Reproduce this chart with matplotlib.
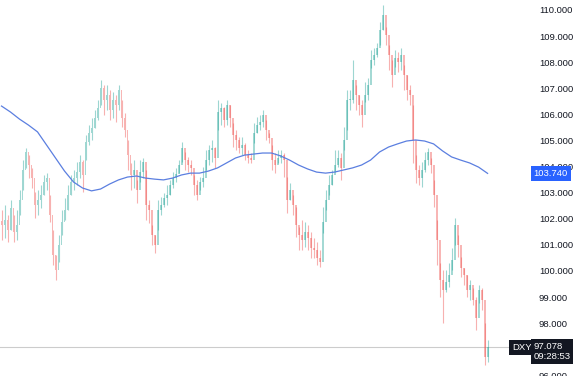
import matplotlib.pyplot as plt
import numpy as np

plt.rcParams['font.family'] = ['Liberation Sans', 'DejaVu Sans']

# DXY daily-ish candles (close / high / low)
close = [101.76, 101.95, 101.57, 102.41, 101.49, 101.76, 102.72, 103.87, 104.56, 104.06,
         103.56, 102.53, 102.72, 102.91, 103.41, 103.56, 102.15, 100.61, 100.04, 101.00,
         101.88, 102.34, 102.91, 103.41, 103.56, 103.79, 104.18, 103.68, 104.94, 105.29,
         105.48, 105.86, 106.25, 107.01, 106.55, 106.74, 106.17, 106.55, 106.36, 106.93,
         105.86, 105.40, 104.44, 103.68, 103.87, 103.10, 103.79, 104.18, 102.53, 102.34,
         101.38, 101.00, 102.34, 102.53, 102.80, 102.91, 103.30, 103.56, 103.72, 104.06,
         104.71, 104.25, 104.06, 103.95, 103.30, 102.91, 103.41, 103.56, 104.25, 104.64,
         104.71, 104.33, 106.09, 106.25, 105.79, 106.36, 105.86, 105.21, 105.02, 104.71,
         104.83, 104.44, 104.33, 104.25, 105.29, 105.59, 105.71, 105.98, 105.40, 105.10,
         104.25, 104.06, 104.33, 104.44, 104.25, 102.72, 103.10, 102.53, 101.76, 101.38,
         101.19, 101.49, 101.26, 100.88, 100.80, 100.50, 100.34, 101.88, 102.72, 103.30,
         103.68, 104.06, 104.33, 103.95, 105.02, 106.55, 106.55, 107.32, 106.74, 106.36,
         105.98, 106.74, 107.13, 108.08, 108.28, 108.54, 109.23, 109.81, 109.04, 108.28,
         107.51, 108.16, 108.01, 108.28, 107.51, 106.93, 106.74, 105.02, 103.87, 103.56,
         103.87, 104.25, 104.56, 104.06, 102.91, 101.19, 99.66, 99.27, 99.58, 99.85,
         100.42, 101.76, 101.00, 100.11, 99.85, 99.27, 99.46, 98.89, 98.20, 99.27,
         98.89, 96.70, 97.078]
high = [102.34, 102.53, 102.15, 102.72, 102.15, 102.34, 103.10, 104.25, 104.71, 104.44,
        103.95, 103.03, 103.10, 103.30, 103.68, 103.75, 102.91, 101.57, 100.61, 101.38,
        102.34, 102.80, 103.30, 103.68, 103.87, 104.18, 104.44, 104.25, 105.21, 105.59,
        105.86, 106.17, 106.55, 107.32, 107.13, 107.13, 106.93, 106.86, 106.74, 107.13,
        106.55, 106.05, 105.02, 104.14, 104.25, 103.49, 104.25, 104.33, 103.87, 102.72,
        101.76, 101.38, 102.72, 102.84, 102.99, 103.30, 103.49, 103.79, 103.95, 104.25,
        104.94, 104.56, 104.37, 104.25, 103.68, 103.49, 103.60, 103.98, 104.64, 104.83,
        105.02, 104.75, 106.55, 106.44, 106.28, 106.55, 106.36, 105.67, 105.40, 105.13,
        105.13, 104.90, 104.64, 104.52, 105.67, 105.90, 105.98, 106.17, 105.79, 105.29,
        104.83, 104.52, 104.64, 104.64, 104.52, 103.60, 103.37, 102.91, 102.45, 101.69,
        101.95, 101.88, 101.76, 101.49, 101.26, 101.11, 100.80, 102.45, 103.10, 103.68,
        103.87, 104.64, 104.64, 104.52, 105.52, 106.93, 106.93, 108.08, 107.13, 106.74,
        106.55, 107.24, 107.39, 108.47, 108.54, 108.74, 109.54, 110.19, 109.35, 108.66,
        108.08, 108.47, 108.39, 108.54, 107.89, 107.51, 107.13, 106.36, 104.44, 104.06,
        104.18, 104.56, 104.71, 104.33, 103.49, 101.95, 100.31, 100.04, 100.04, 100.31,
        100.88, 102.03, 101.38, 100.54, 100.11, 99.85, 99.66, 99.35, 99.00, 99.46,
        99.35, 98.01, 97.36]
low = [101.19, 101.26, 101.11, 101.57, 101.11, 101.19, 102.15, 103.10, 103.95, 103.56,
       103.18, 102.03, 102.15, 102.41, 102.91, 103.10, 101.88, 100.23, 99.66, 100.34,
       101.38, 101.95, 102.34, 102.91, 103.10, 103.30, 103.56, 103.03, 104.25, 104.83,
       105.02, 105.48, 105.79, 106.36, 105.98, 106.17, 105.79, 105.86, 105.71, 106.17,
       105.52, 105.13, 103.87, 103.10, 103.18, 102.61, 103.41, 103.56, 101.95, 101.84,
       101.00, 100.69, 101.57, 102.15, 102.45, 102.53, 102.91, 103.18, 103.41, 103.75,
       104.18, 103.87, 103.79, 103.68, 102.91, 102.72, 103.10, 103.22, 103.87, 104.06,
       104.18, 103.95, 105.40, 105.59, 105.52, 105.59, 105.52, 104.75, 104.64, 104.52,
       104.44, 104.25, 104.14, 104.14, 104.90, 105.29, 105.40, 105.52, 105.02, 104.90,
       103.87, 103.75, 104.14, 104.14, 103.60, 102.22, 102.72, 102.15, 101.30, 100.80,
       100.80, 100.92, 100.80, 100.50, 100.50, 100.23, 100.15, 101.46, 102.34, 102.91,
       103.30, 103.79, 103.98, 103.49, 104.64, 105.40, 106.17, 106.44, 106.17, 105.98,
       105.52, 106.48, 106.55, 107.78, 107.89, 108.20, 108.66, 109.23, 108.66, 107.70,
       107.05, 107.82, 107.62, 107.70, 106.93, 106.55, 106.36, 104.14, 103.37, 103.30,
       103.22, 103.79, 104.06, 103.75, 102.45, 100.23, 99.00, 98.01, 99.20, 99.39,
       100.04, 101.00, 100.54, 99.77, 99.46, 99.00, 98.89, 98.70, 97.74, 98.77,
       98.51, 96.40, 96.51]
first_open = 101.90

# moving average, one reading every third candle
ma = [106.32, 106.09, 105.82, 105.59, 105.33, 104.83, 104.33, 103.83, 103.41, 103.18,
      103.07, 103.14, 103.33, 103.49, 103.60, 103.64, 103.56, 103.52, 103.49, 103.56,
      103.68, 103.75, 103.75, 103.83, 103.95, 104.14, 104.33, 104.44, 104.48, 104.52,
      104.52, 104.41, 104.25, 104.06, 103.91, 103.79, 103.75, 103.79, 103.87, 103.95,
      104.06, 104.25, 104.56, 104.75, 104.87, 104.98, 105.02, 104.98, 104.87, 104.60,
      104.37, 104.25, 104.14, 103.98, 103.74]
ma_label = '103.740'
last_label = '97.078'
clock = '09:28:53'
symbol = 'DXY'
yticks = [96, 97, 98, 99, 100, 101, 102, 103, 104, 105, 106, 107, 108, 109, 110]

close = np.array(close)
high = np.array(high)
low = np.array(low)
opn = np.concatenate([[first_open], close[:-1]])
idx = np.arange(len(close))
up = close >= opn

green = '#26a69a'
red = '#ef5350'
cols = np.where(up, green, red)

fig = plt.figure(figsize=(5.75, 3.76), dpi=100)
ax = fig.add_axes([0, 0, 532 / 575, 1])

ax.vlines(idx, low, high, colors=cols, linewidth=0.8, alpha=0.45, zorder=2)
body_lo = np.minimum(opn, close)
body_h = np.maximum(np.abs(close - opn), 0.03)
ax.bar(idx, body_h, bottom=body_lo, width=0.65, color=cols, alpha=0.42,
       linewidth=0, zorder=2)

ma_idx = idx[::3][:len(ma)]
ax.plot(ma_idx, ma, color='#5b7fe0', linewidth=0.9, zorder=3)

ax.axhline(close[-1], color='#cccccc', linewidth=0.8, zorder=1)

ax.set_xlim(-0.5, 176.8)
ax.set_ylim(95.977, 110.383)
ax.set_xticks([])
ax.yaxis.tick_right()
ax.set_yticks(yticks)
ax.set_yticklabels(['%.3f' % v for v in yticks])
ax.tick_params(axis='y', length=0, pad=5, labelsize=6.8, labelcolor='#131722')
for s in ax.spines.values():
    s.set_visible(False)

# price tags on the right scale
ax.text(1.003, ma[-1], ma_label, transform=ax.get_yaxis_transform(), ha='left',
        va='center', fontsize=6.8, color='white', clip_on=False, zorder=5,
        bbox=dict(boxstyle='square,pad=0.3', fc='#2962ff', ec='none'))
ax.text(0.999, close[-1], symbol, transform=ax.get_yaxis_transform(), ha='right',
        va='center', fontsize=6.8, color='white', clip_on=False, zorder=5,
        bbox=dict(boxstyle='square,pad=0.3', fc='#131722', ec='none'))
ax.text(1.003, close[-1] + 0.2, last_label + '\n' + clock, transform=ax.get_yaxis_transform(),
        ha='left', va='top', fontsize=6.8, color='white', clip_on=False, zorder=5,
        linespacing=1.1,
        bbox=dict(boxstyle='square,pad=0.3', fc='#131722', ec='none'))

fig.savefig('out.png', dpi=100)
